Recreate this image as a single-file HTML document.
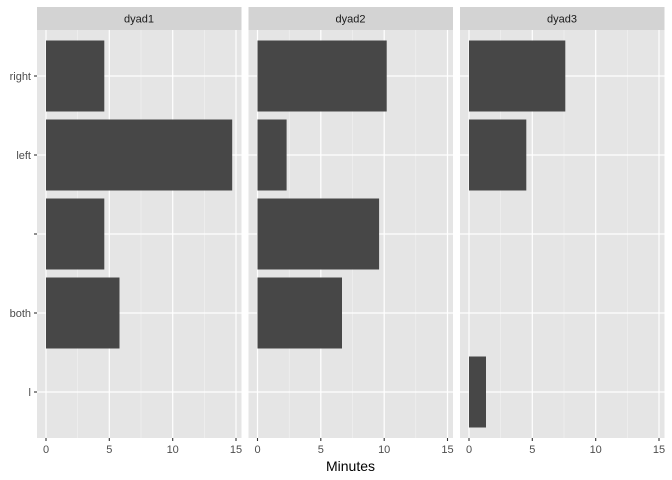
<!DOCTYPE html>
<html><head><meta charset="utf-8"><style>
html,body{margin:0;padding:0;background:#fff;}
svg{display:block;font-family:"Liberation Sans",Arial,sans-serif;}
</style></head><body>
<svg width="672" height="480" viewBox="0 0 672 480" xmlns="http://www.w3.org/2000/svg">
<defs>
<g id="bg">
<rect x="0" y="30" width="204.5" height="408" fill="#e5e5e5"/>
<g stroke="#f2f2f2" stroke-width="0.6">
<line x1="40.7" y1="30" x2="40.7" y2="438"/><line x1="104" y1="30" x2="104" y2="438"/><line x1="167.3" y1="30" x2="167.3" y2="438"/>
</g>
<g stroke="#fff" stroke-width="1.2">
<line x1="9" y1="30" x2="9" y2="438"/><line x1="72.3" y1="30" x2="72.3" y2="438"/><line x1="135.7" y1="30" x2="135.7" y2="438"/><line x1="199" y1="30" x2="199" y2="438"/>
<line x1="0" y1="76" x2="204.5" y2="76"/><line x1="0" y1="155" x2="204.5" y2="155"/><line x1="0" y1="234" x2="204.5" y2="234"/><line x1="0" y1="313" x2="204.5" y2="313"/><line x1="0" y1="392" x2="204.5" y2="392"/>
</g>
<rect x="0" y="7" width="204.5" height="23" fill="#d3d3d3"/>
<g stroke="#333" stroke-width="1.1">
<line x1="9" y1="438" x2="9" y2="441"/><line x1="72.3" y1="438" x2="72.3" y2="441"/><line x1="135.7" y1="438" x2="135.7" y2="441"/><line x1="199" y1="438" x2="199" y2="441"/>
</g>
<g font-size="11" fill="#4d4d4d" text-anchor="middle">
<text x="9" y="453">0</text><text x="72.3" y="453">5</text><text x="135.7" y="453">10</text><text x="199" y="453">15</text>
</g>
</g>
</defs>

<g transform="translate(37,0)">
<use href="#bg"/>
<text x="102" y="22.5" font-size="11" fill="#1a1a1a" text-anchor="middle">dyad1</text>
<g fill="#474747">
<rect x="9" y="40.5" width="58.3" height="71"/>
<rect x="9" y="119.5" width="186.2" height="71"/>
<rect x="9" y="198.5" width="58.3" height="71"/>
<rect x="9" y="277.5" width="73.5" height="71"/>
</g>
</g>

<g transform="translate(248.5,0)">
<use href="#bg"/>
<text x="102" y="22.5" font-size="11" fill="#1a1a1a" text-anchor="middle">dyad2</text>
<g fill="#474747">
<rect x="9" y="40.5" width="129.2" height="71"/>
<rect x="9" y="119.5" width="29.1" height="71"/>
<rect x="9" y="198.5" width="121.6" height="71"/>
<rect x="9" y="277.5" width="84.5" height="71"/>
</g>
</g>

<g transform="translate(460,0)">
<use href="#bg"/>
<text x="102" y="22.5" font-size="11" fill="#1a1a1a" text-anchor="middle">dyad3</text>
<g fill="#474747">
<rect x="9" y="40.5" width="96.3" height="71"/>
<rect x="9" y="119.5" width="57.3" height="71"/>
<rect x="9" y="356.5" width="17" height="71"/>
</g>
</g>

<g stroke="#333" stroke-width="1.1">
<line x1="34" y1="76" x2="37" y2="76"/><line x1="34" y1="155" x2="37" y2="155"/><line x1="34" y1="234" x2="37" y2="234"/><line x1="34" y1="313" x2="37" y2="313"/><line x1="34" y1="392" x2="37" y2="392"/>
</g>
<g font-size="11" fill="#4d4d4d" text-anchor="end">
<text x="31" y="80">right</text><text x="31" y="159">left</text><text x="31" y="396">l</text><text x="31" y="317">both</text>
</g>
<text x="350.5" y="471" font-size="14" fill="#000" text-anchor="middle">Minutes</text>
</svg>
</body></html>
